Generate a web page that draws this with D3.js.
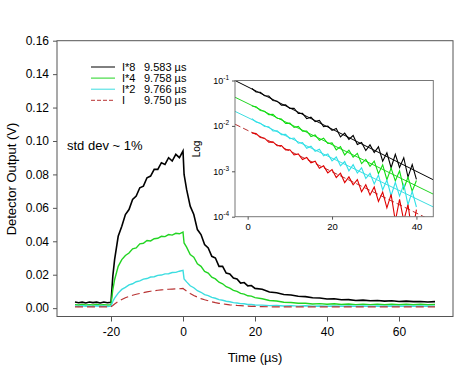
<!DOCTYPE html>
<html>
<head>
<meta charset="utf-8">
<title>Detector output</title>
<script src="https://cdn.jsdelivr.net/npm/d3@7"></script>
<style>
  body { margin: 0; background: #fff; }
  svg text { font-family: "Liberation Sans", Arial, sans-serif; fill: #000; }
  .frame { fill: none; stroke: #555; stroke-width: 1px; }
  .axis path, .axis line { stroke: #555; }
</style>
</head>
<body>
<div id="chart"></div>
<script>
// time axis (µs) shared by the four main traces
var tMain = [-30, -29, -28, -27, -26, -25, -24, -23, -22, -21, -20,
  -19.5, -19, -18, -17, -16, -15, -14, -13, -12, -11, -10, -9, -8, -7, -6, -5, -4, -3, -2, -1, 0,
  0.3, 1, 2, 3, 4, 5, 6, 7, 8, 9, 10, 11, 12, 13, 14, 15, 16, 17, 18, 19, 20,
  22, 24, 26, 28, 30, 32, 34, 36, 38, 40, 42, 44, 46, 48, 50, 52, 54, 56, 58, 60, 62, 64, 66, 68, 70];

// detector output (V)
var outI8 = [0.0037, 0.0032, 0.0036, 0.0031, 0.0037, 0.0033, 0.0036, 0.0031, 0.0037, 0.0032, 0.0035,
  0.019, 0.029, 0.043, 0.049, 0.056, 0.059, 0.065, 0.067, 0.072, 0.073, 0.078, 0.079, 0.083, 0.083, 0.087, 0.086, 0.090, 0.088, 0.092, 0.090, 0.094,
  0.080, 0.071, 0.061, 0.056, 0.047, 0.044, 0.038, 0.036, 0.031, 0.030, 0.025, 0.025, 0.021, 0.0205, 0.018, 0.0175, 0.015, 0.0153, 0.0133, 0.0135, 0.0118,
  0.0113, 0.0097, 0.0092, 0.0082, 0.0079, 0.0071, 0.0069, 0.0062, 0.0061, 0.0055, 0.0056, 0.0050, 0.0051, 0.0046, 0.0048, 0.0044, 0.0046, 0.0042, 0.0044, 0.0040, 0.0042, 0.0039, 0.0040, 0.0037, 0.0039];

var outI4 = [0.0021, 0.0019, 0.0022, 0.0019, 0.0021, 0.0019, 0.0022, 0.0019, 0.0021, 0.0019, 0.0020,
  0.011, 0.017, 0.025, 0.029, 0.0315, 0.033, 0.0355, 0.036, 0.0385, 0.0388, 0.0405, 0.0402, 0.0415, 0.0418, 0.043, 0.0428, 0.044, 0.0437, 0.0448, 0.0445, 0.0455,
  0.039, 0.0365, 0.032, 0.0305, 0.0265, 0.025, 0.022, 0.021, 0.0185, 0.0175, 0.0155, 0.0146, 0.0128, 0.012, 0.0106, 0.0100, 0.0088, 0.0084, 0.0074, 0.0072, 0.0063,
  0.0056, 0.0046, 0.0043, 0.0035, 0.0034, 0.0029, 0.0029, 0.0025, 0.0027, 0.0023, 0.0026, 0.0022, 0.0025, 0.0021, 0.0024, 0.0021, 0.0024, 0.0020, 0.0023, 0.0020, 0.0023, 0.0020, 0.0023, 0.0020, 0.0022];

var outI2 = [0.0013, 0.0010, 0.0014, 0.0011, 0.0013, 0.0010, 0.0014, 0.0011, 0.0013, 0.0010, 0.0012,
  0.004, 0.006, 0.009, 0.0112, 0.0124, 0.0139, 0.0146, 0.0158, 0.0163, 0.0174, 0.0177, 0.0186, 0.0188, 0.0196, 0.0198, 0.0205, 0.0206, 0.0213, 0.0214, 0.0221, 0.0226,
  0.0175, 0.0157, 0.0134, 0.0122, 0.0104, 0.0095, 0.0081, 0.0075, 0.0064, 0.0059, 0.0051, 0.0047, 0.0041, 0.0038, 0.0033, 0.0031, 0.0027, 0.0026, 0.0022, 0.0022, 0.0019,
  0.0018, 0.0015, 0.0016, 0.0013, 0.0015, 0.0012, 0.0014, 0.0011, 0.0013, 0.0011, 0.0013, 0.0011, 0.0013, 0.0011, 0.0013, 0.0011, 0.0013, 0.0011, 0.0013, 0.0011, 0.0013, 0.0011, 0.0013, 0.0011, 0.0012];

var outI1 = [0.0008, 0.0008, 0.0008, 0.0008, 0.0008, 0.0008, 0.0008, 0.0008, 0.0008, 0.0008, 0.0008,
  0.0016, 0.0025, 0.004, 0.0052, 0.0062, 0.007, 0.0077, 0.0083, 0.0088, 0.0093, 0.0097, 0.0101, 0.0104, 0.0107, 0.0109, 0.0111, 0.0113, 0.0114, 0.0115, 0.0116, 0.0118,
  0.0113, 0.0102, 0.0088, 0.0076, 0.0066, 0.0057, 0.005, 0.0044, 0.0038, 0.0033, 0.0029, 0.0026, 0.0023, 0.002, 0.0018, 0.0016, 0.0015, 0.0013, 0.0012, 0.0011, 0.001,
  0.0009, 0.0008, 0.0008, 0.0008, 0.0008, 0.0008, 0.0008, 0.0008, 0.0008, 0.0008, 0.0008, 0.0008, 0.0008, 0.0008, 0.0008, 0.0008, 0.0008, 0.0008, 0.0008, 0.0008, 0.0008, 0.0008, 0.0008, 0.0008, 0.0008];

// inset: decay on log axis, values stored as log10(V)
var tInset = d3.range(1, 41);
var logI8 = [-1.176, -1.253, -1.259, -1.336, -1.342, -1.439, -1.455, -1.542, -1.538, -1.615,
  -1.611, -1.728, -1.724, -1.841, -1.807, -1.904, -1.880, -2.017, -2.003, -2.100,
  -2.056, -2.243, -2.159, -2.296, -2.212, -2.409, -2.365, -2.542, -2.418, -2.585,
  -2.461, -2.778, -2.594, -2.921, -2.627, -2.914, -2.700, -3.127, -2.853, -3.180];
var logI4 = [-1.560, -1.576, -1.661, -1.677, -1.752, -1.747, -1.833, -1.848, -1.944, -1.939,
  -2.034, -2.010, -2.115, -2.111, -2.236, -2.201, -2.317, -2.272, -2.388, -2.373,
  -2.528, -2.454, -2.639, -2.535, -2.690, -2.605, -2.831, -2.736, -2.892, -2.777,
  -3.052, -2.858, -3.183, -2.929, -3.214, -2.989, -3.385, -3.130, -3.436, -3.201];
var logI2 = [-1.839, -1.914, -1.939, -2.014, -2.018, -2.113, -2.108, -2.193, -2.188, -2.282,
  -2.267, -2.382, -2.367, -2.492, -2.446, -2.561, -2.516, -2.661, -2.616, -2.770,
  -2.685, -2.880, -2.785, -2.990, -2.854, -3.039, -2.924, -3.159, -3.044, -3.278,
  -3.083, -3.408, -3.193, -3.538, -3.242, -3.547, -3.292, -3.737, -3.442, -3.786];
var logI1 = [-2.154, -2.170, -2.256, -2.271, -2.357, -2.352, -2.438, -2.434, -2.529, -2.525,
  -2.640, -2.616, -2.742, -2.697, -2.813, -2.778, -2.934, -2.880, -3.035, -2.961,
  -3.136, -3.042, -3.248, -3.123, -3.299, -3.184, -3.450, -3.296, -3.521, -3.347,
  -3.662, -3.458, -3.804, -3.509, -4.095, -3.620, -4.086, -3.732, -4.377, -3.843];

// exponential fits (straight on log axis), end points
var fitT = [-3, 44];
var fitI8 = [0.1, 6.5e-4];
var fitI4 = [0.0428, 3.14e-4];
var fitI2 = [0.0209, 1.64e-4];
var fitI1 = [0.0109, 7.9e-5];

var legendNames = ["I*8", "I*4", "I*2", "I"];
var legendTaus = ["9.583 \u00b5s", "9.758 \u00b5s", "9.766 \u00b5s", "9.750 \u00b5s"];
var colors = ["#000000", "#22d422", "#3cdde0", "#b83232"];
var insetColors = ["#000000", "#10dd10", "#30e0e8", "#e00000"];

var width = 474, height = 366;

var svg = d3.select("#chart").append("svg")
    .attr("width", width)
    .attr("height", height);

var x = d3.scaleLinear().domain([-35, 75]).range([57, 453]);
var y = d3.scaleLinear().domain([-0.005, 0.16]).range([316.5, 40.7]);

// axes (plain hyphen for negatives, like the original)
svg.append("g")
    .attr("class", "axis")
    .attr("transform", "translate(0,316.5)")
    .call(d3.axisBottom(x).tickValues([-20, 0, 20, 40, 60]).tickFormat(function(d) { return String(d); })
        .tickSize(5).tickSizeOuter(0).tickPadding(6))
    .call(function(g) { g.select(".domain").remove(); })
    .selectAll("text").attr("font-size", 12).attr("font-family", null);

svg.append("g")
    .attr("class", "axis")
    .attr("transform", "translate(57,0)")
    .call(d3.axisLeft(y).tickValues(d3.range(0, 0.161, 0.02)).tickFormat(function(d) { return d.toFixed(2); })
        .tickSize(4).tickSizeOuter(0).tickPadding(4))
    .call(function(g) { g.select(".domain").remove(); })
    .selectAll("text").attr("font-size", 12).attr("font-family", null);

svg.append("rect")
    .attr("class", "frame")
    .attr("x", 57).attr("y", 40.7)
    .attr("width", 396).attr("height", 275.8);

svg.append("text")
    .attr("transform", "translate(16,179) rotate(-90)")
    .attr("text-anchor", "middle")
    .attr("font-size", 13)
    .text("Detector Output (V)");

svg.append("text")
    .attr("x", 255).attr("y", 362)
    .attr("text-anchor", "middle")
    .attr("font-size", 13)
    .text("Time (\u00b5s)");

// main traces
var line = d3.line()
    .x(function(d) { return x(d[0]); })
    .y(function(d) { return y(d[1]); });

var mainSeries = [outI8, outI4, outI2, outI1];
var plotG = svg.append("g");
mainSeries.forEach(function(vals, i) {
    var pts = tMain.map(function(t, j) { return [t, vals[j]]; });
    plotG.append("path")
        .datum(pts)
        .attr("d", line)
        .attr("fill", "none")
        .attr("stroke", colors[i])
        .attr("stroke-width", i == 0 ? 1.6 : (i == 3 ? 1.2 : 1.4))
        .attr("stroke-dasharray", i == 3 ? "8,4" : null);
});

// legend
var leg = svg.append("g");
legendNames.forEach(function(name, i) {
    var ly = 67 + i * 11.1;
    leg.append("line")
        .attr("x1", 91).attr("x2", 115)
        .attr("y1", ly).attr("y2", ly)
        .attr("stroke", colors[i])
        .attr("stroke-width", 1)
        .attr("stroke-dasharray", i == 3 ? "4,2" : null);
    leg.append("text")
        .attr("x", 122).attr("y", ly + 4)
        .attr("font-size", 11)
        .text(name);
    leg.append("text")
        .attr("x", 144).attr("y", ly + 4)
        .attr("font-size", 11)
        .text(legendTaus[i]);
});

svg.append("text")
    .attr("x", 67).attr("y", 150)
    .attr("font-size", 13)
    .text("std dev ~ 1%");

// inset
var xi = d3.scaleLinear().domain([-3, 44]).range([235, 433.3]);
var yi = d3.scaleLog().domain([1e-4, 1e-1]).range([216.7, 80.5]);

svg.append("rect")
    .attr("x", 235).attr("y", 80.5)
    .attr("width", 198.3).attr("height", 136.2)
    .attr("fill", "#fff");

svg.append("clipPath").attr("id", "insetClip")
  .append("rect")
    .attr("x", 235).attr("y", 80.5)
    .attr("width", 198.3).attr("height", 136.2);

var ig = svg.append("g").attr("clip-path", "url(#insetClip)");

var iline = d3.line()
    .x(function(d) { return xi(d[0]); })
    .y(function(d) { return yi(d[1]); });

var insetData = [logI8, logI4, logI2, logI1];
var fits = [fitI8, fitI4, fitI2, fitI1];

fits.forEach(function(f, i) {
    ig.append("path")
        .datum(fitT.map(function(t, j) { return [t, f[j]]; }))
        .attr("d", iline)
        .attr("fill", "none")
        .attr("stroke", colors[i])
        .attr("stroke-width", 1)
        .attr("stroke-dasharray", i == 3 ? "6,3" : null);
});

insetData.forEach(function(vals, i) {
    ig.append("path")
        .datum(tInset.map(function(t, j) { return [t, Math.pow(10, vals[j])]; }))
        .attr("d", iline)
        .attr("fill", "none")
        .attr("stroke", insetColors[i])
        .attr("stroke-width", 1.1);
});

svg.append("rect")
    .attr("x", 235).attr("y", 80.5)
    .attr("width", 198.3).attr("height", 136.2)
    .attr("fill", "none")
    .attr("stroke", "#777");

var ixAxis = svg.append("g")
    .attr("class", "axis")
    .attr("transform", "translate(0,216.7)")
    .call(d3.axisBottom(xi).tickValues([0, 20, 40]).tickSize(3).tickSizeOuter(0).tickPadding(4))
    .call(function(g) { g.select(".domain").remove(); });
ixAxis.selectAll("text").attr("font-size", 9.5).attr("font-family", null);
ixAxis.selectAll("line").attr("stroke", "#777");

var iyAxis = svg.append("g")
    .attr("class", "axis")
    .attr("transform", "translate(235,0)")
    .call(d3.axisLeft(yi).tickValues([1e-4, 1e-3, 1e-2, 1e-1]).tickFormat(function() { return ""; }).tickSize(3).tickSizeOuter(0).tickPadding(3))
    .call(function(g) { g.select(".domain").remove(); });
iyAxis.selectAll("line").attr("stroke", "#777");
iyAxis.selectAll(".tick text").each(function(d) {
    var t = d3.select(this).attr("font-size", 9).attr("font-family", null);
    t.append("tspan").text("10");
    t.append("tspan").attr("dy", -4).attr("font-size", 6.5).text(String(Math.round(Math.log10(d))));
});

svg.append("text")
    .attr("transform", "translate(200,149) rotate(-90)")
    .attr("text-anchor", "middle")
    .attr("font-size", 10)
    .text("Log");
</script>
</body>
</html>
